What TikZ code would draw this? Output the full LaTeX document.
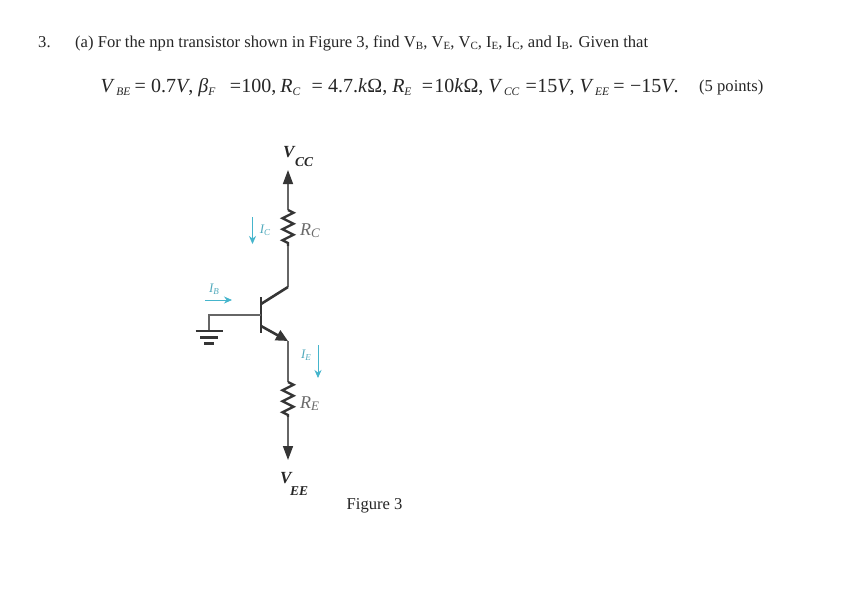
\documentclass[tikz,border=0pt]{standalone}
\usepackage{fontspec}
\setmainfont{Liberation Serif}
\usetikzlibrary{arrows.meta,decorations.pathmorphing}
\definecolor{wirec}{HTML}{666666}
\definecolor{darkc}{HTML}{353535}
\definecolor{curc}{HTML}{45B5CC}
\definecolor{labc}{HTML}{6A6A6A}
\newcommand{\sbs}[1]{\raisebox{-0.3ex}{\fontsize{11}{12}\selectfont #1}}
\newcommand{\sbi}[1]{\raisebox{-0.35ex}{\fontsize{11.5}{12}\selectfont\itshape #1}}
\newcommand{\eqs}[2]{\hspace{#1pt}\,=\hspace{#2pt}\,}
\tikzset{
  txt/.style={inner sep=0pt,anchor=base west,font=\fontsize{16.6}{18}\selectfont,text=black!85},
  eqn/.style={inner sep=0pt,anchor=base west,font=\fontsize{20}{24}\selectfont,text=black!85},
  pts/.style={inner sep=0pt,anchor=base west,font=\fontsize{16.6}{20}\selectfont,text=black!85},
  wire/.style={draw=wirec,line width=1.5pt},
  feed/.style={wire,-{Triangle[length=14pt,width=10pt,color=darkc]}},
  res/.style={draw=darkc,line width=2.3pt,decorate,decoration={zigzag,segment length=11pt,amplitude=5.5pt}},
  bar/.style={draw=darkc,line width=2.3pt},
  lead/.style={draw=darkc,line width=2.6pt},
  curr/.style={draw=curc,line width=.8pt,-{Stealth[length=8pt,width=7pt,color=curc]}},
  curlab/.style={inner sep=0pt,text=curc!80!gray,font=\fontsize{13}{14}\selectfont\itshape},
  rlab/.style={inner sep=0pt,anchor=base west,text=labc,font=\fontsize{18}{20}\selectfont\itshape},
  vlab/.style={inner sep=0pt,anchor=base west,text=black!85,font=\fontsize{17}{18}\selectfont\bfseries\itshape},
  vsub/.style={inner sep=0pt,anchor=base west,text=black!85,font=\fontsize{13.5}{15}\selectfont\bfseries\itshape},
}
\begin{document}
\begin{tikzpicture}[x=1pt,y=-1pt]
\useasboundingbox[fill=white] (0,0) rectangle (843,592);
% text
\node[txt] (num) at (38,47) {3.};
\node[txt] (q) at (75,47) {(a) For the npn transistor shown in Figure 3, find V\sbs{B}, V\sbs{E}, V\sbs{C}, I\sbs{E}, I\sbs{C}, and I\sbs{B}. Given that};
\node[eqn] (eq) at (100.5,92) {\textit{V\,}\sbi{BE}\eqs{1}{2}0.7\textit{V}, \textit{β\sbi{F}}\eqs{11}{-3}100,\hspace{-1pt} \textit{R\sbi{C}}\eqs{8}{2}4.7.\textit{k}Ω, \textit{R\sbi{E}}\eqs{7}{-2}10\textit{k}Ω, \textit{V\,}\sbi{CC}\eqs{3}{-3}15\textit{V}, \textit{V\,}\sbi{EE}\eqs{1}{2}−15\textit{V}.};
\node[pts] (pts) at (699,91) {(5 points)};
\node[txt] (fig) at (346.5,509) {Figure 3};
% coordinates
\coordinate (vcc) at (288,170);
\coordinate (rct) at (288,210);
\coordinate (rcb) at (288,246);
\coordinate (col) at (288,287);
\coordinate (colb) at (261,304);
\coordinate (bt) at (261,297);
\coordinate (bb) at (261,333);
\coordinate (bs) at (261,315);
\coordinate (bc) at (209,315);
\coordinate (gnd) at (209,331);
\coordinate (emb) at (261,326);
\coordinate (em) at (288,341);
\coordinate (ret) at (288,382);
\coordinate (reb) at (288,417);
\coordinate (vee) at (288,460);
% wires
\draw[feed] (rct) -- (vcc);
\draw[res] (rct) -- (rcb);
\draw[wire] (rcb) -- (col);
\draw[lead] (col) -- (colb);
\draw[bar] (bt) -- (bb);
\draw[wire] (bs) -- (bc) -- (gnd);
\draw[lead,-{Triangle[length=12pt,width=11pt,color=darkc]}] (emb) -- (em);
\draw[wire] (em) -- (ret);
\draw[res] (ret) -- (reb);
\draw[feed] (reb) -- (vee);
% ground
\draw[bar] ([xshift=-13.5pt]gnd) -- ([xshift=13.5pt]gnd);
\draw[bar] ([xshift=-9pt,yshift=-6.5pt]gnd) -- ([xshift=9pt,yshift=-6.5pt]gnd);
\draw[bar] ([xshift=-5pt,yshift=-12.5pt]gnd) -- ([xshift=5pt,yshift=-12.5pt]gnd);
% labels
\node[vlab] (vccv) at (283,157) {V};
\node[vsub] (vccs) at (295,166) {CC};
\node[rlab] (rc) at (300,235) {R\raisebox{-.3ex}{\fontsize{13}{14}\selectfont C}};
\node[rlab] (re) at (300,408) {R\raisebox{-.3ex}{\fontsize{13}{14}\selectfont E}};
\node[vlab] (veev) at (280,483) {V};
\node[vsub] (vees) at (290,495) {EE};
% currents
\coordinate (ict) at (252.5,217); \coordinate (icb) at (252.5,244);
\draw[curr] (ict) -- (icb);
\node[curlab] (ic) at (265,230) {I\raisebox{-.3ex}{\fontsize{9}{10}\selectfont C}};
\coordinate (ibl) at (205,300); \coordinate (ibr) at (232,300);
\draw[curr] (ibl) -- (ibr);
\node[curlab] (ib) at (214,289) {I\raisebox{-.3ex}{\fontsize{9}{10}\selectfont B}};
\coordinate (iet) at (318,345); \coordinate (ieb) at (318,378);
\draw[curr] (iet) -- (ieb);
\node[curlab] (ie) at (306,355) {I\raisebox{-.3ex}{\fontsize{9}{10}\selectfont E}};
\end{tikzpicture}
\end{document}
